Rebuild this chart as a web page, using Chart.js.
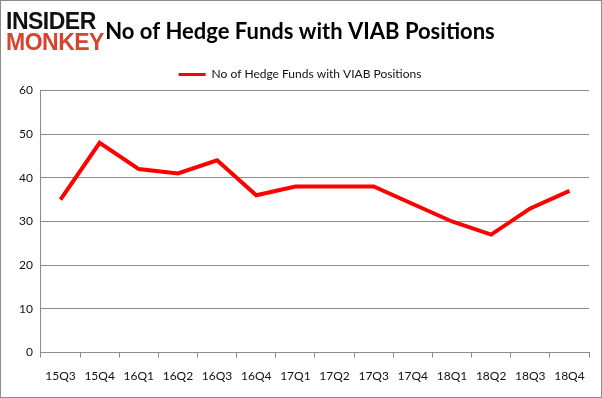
<!DOCTYPE html>
<html>
<head>
<meta charset="utf-8">
<script src="https://cdn.jsdelivr.net/npm/chart.js@4.4.1/dist/chart.umd.min.js"></script>
<style>
    html, body { margin: 0; padding: 0; background: #fff; }
    #wrap {
        position: relative;
        width: 600px;
        height: 396px;
        border: 1px solid #8c8c8c;
    }
    #logo {
        position: absolute;
        left: 5px;
        top: 10px;
        font-family: "Liberation Sans", Arial, sans-serif;
        font-weight: bold;
        font-size: 23px;
        line-height: 21px;
        letter-spacing: -0.5px;
    }
    #logo .a { color: #111; }
    #logo .b { color: #d6432f; }
</style>
</head>
<body>
<div id="wrap">
    <canvas id="chart" width="600" height="396"></canvas>
    <div id="logo"><div class="a">INSIDER</div><div class="b">MONKEY</div></div>
</div>
<script>
// Data
const quarters = ['15Q3', '15Q4', '16Q1', '16Q2', '16Q3', '16Q4', '17Q1',
    '17Q2', '17Q3', '17Q4', '18Q1', '18Q2', '18Q3', '18Q4'];
const hedgeFunds = [35, 48, 42, 41, 44, 36, 38, 38, 38, 34, 30, 27, 33, 37];
const seriesName = 'No of Hedge Funds with VIAB Positions';
const chartTitle = 'No of Hedge Funds with VIAB Positions';

const ctx = document.getElementById('chart').getContext('2d');

new Chart(ctx, {
    type: 'line',
    data: {
        labels: quarters,
        datasets: [{
            label: seriesName,
            data: hedgeFunds,
            borderColor: '#ff0000',
            backgroundColor: '#ff0000',
            borderWidth: 4,
            pointRadius: 0,
            tension: 0,
            fill: false
        }]
    },
    options: {
        responsive: false,
        animation: false,
        layout: {
            padding: { top: 0, right: 12, bottom: 3, left: 10 }
        },
        plugins: {
            title: {
                display: true,
                text: chartTitle,
                color: '#000',
                font: { family: 'Lato', size: 22, weight: 'bold' },
                padding: { top: 18, bottom: 13 }
            },
            legend: {
                position: 'top',
                labels: {
                    color: '#111',
                    font: { family: 'Lato', size: 12 },
                    boxWidth: 27,
                    boxHeight: 3,
                    padding: 10,
                    generateLabels: (chart) => {
                        const items = Chart.defaults.plugins.legend.labels.generateLabels(chart);
                        items.forEach(it => { it.lineWidth = 0; });
                        return items;
                    }
                }
            },
            tooltip: { enabled: false }
        },
        scales: {
            x: {
                offset: true,
                grid: {
                    offset: true,
                    drawOnChartArea: false,
                    drawTicks: true,
                    tickLength: 5,
                    color: '#8c8c8c'
                },
                border: { color: '#8c8c8c' },
                ticks: {
                    color: '#111',
                    font: { family: 'Lato', size: 12 },
                    maxRotation: 0,
                    autoSkip: false,
                    padding: 11
                }
            },
            y: {
                min: 0,
                max: 60,
                ticks: {
                    stepSize: 10,
                    color: '#111',
                    font: { family: 'Lato', size: 12 },
                    padding: 8
                },
                grid: {
                    color: '#8c8c8c',
                    drawTicks: false
                },
                border: { color: '#8c8c8c' }
            }
        }
    }
});
</script>
</body>
</html>
